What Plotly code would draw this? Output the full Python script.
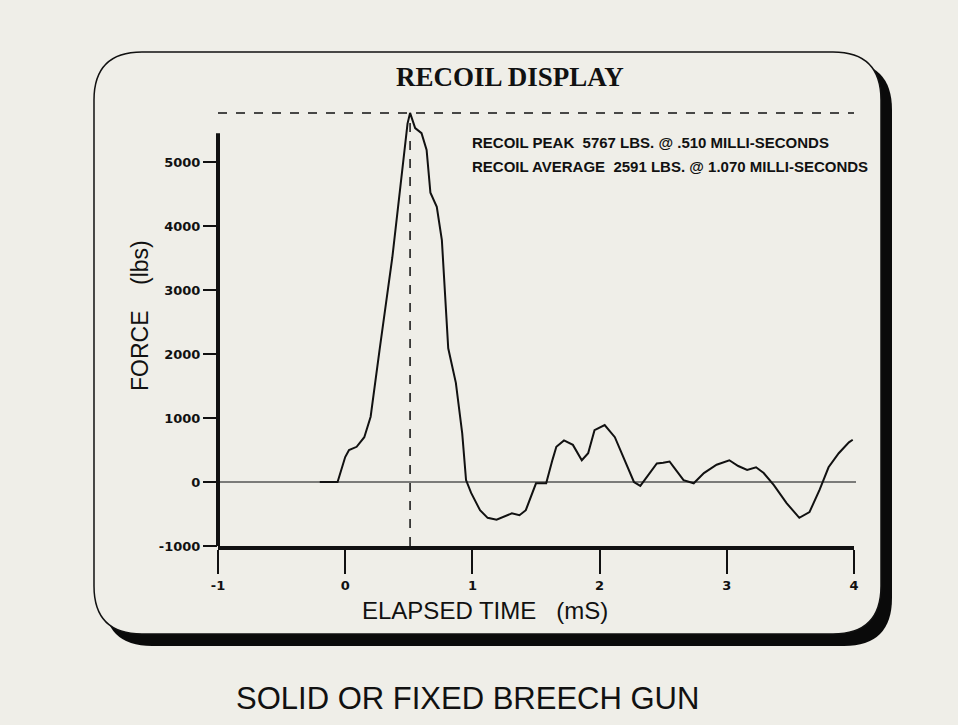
import plotly.graph_objects as go

# ---------------- data ----------------
time_ms = [-0.20, -0.06, 0.00, 0.03, 0.09, 0.15, 0.20, 0.24, 0.27, 0.37, 0.44, 0.49, 0.51,
           0.55, 0.60, 0.64, 0.67, 0.72, 0.76, 0.79, 0.81, 0.87, 0.92, 0.95, 0.99, 1.06,
           1.12, 1.19, 1.25, 1.31, 1.37, 1.42, 1.50, 1.58, 1.63, 1.66, 1.72, 1.79, 1.86,
           1.91, 1.96, 2.04, 2.12, 2.20, 2.27, 2.32, 2.38, 2.45, 2.50, 2.55, 2.58, 2.66,
           2.74, 2.82, 2.92, 3.02, 3.09, 3.16, 3.23, 3.29, 3.37, 3.47, 3.57, 3.65, 3.73,
           3.80, 3.88, 3.96, 3.99]
force_lbs = [0, 0, 390, 500, 550, 700, 1020, 1640, 2060, 3500, 4670, 5600, 5767,
             5530, 5450, 5190, 4520, 4300, 3780, 2840, 2090, 1550, 760, 30, -170, -440,
             -560, -590, -540, -490, -520, -440, -20, -20, 350, 550, 650, 580, 340,
             450, 810, 890, 700, 340, 0, -60, 110, 290, 300, 320, 240, 30,
             -20, 140, 270, 340, 250, 190, 230, 140, -50, -330, -560, -470, -120,
             230, 450, 620, 660]

peak_time = 0.510
peak_force = 5767
x_ticks = [-1, 0, 1, 2, 3, 4]
y_ticks = [-1000, 0, 1000, 2000, 3000, 4000, 5000]
title_text = "RECOIL DISPLAY"
info_lines = ["RECOIL PEAK  5767 LBS. @ .510 MILLI-SECONDS",
              "RECOIL AVERAGE  2591 LBS. @ 1.070 MILLI-SECONDS"]
x_title = "ELAPSED TIME&nbsp;&nbsp;&nbsp;(mS)"
y_title = "FORCE&nbsp;&nbsp;&nbsp;&nbsp;(lbs)"
caption = "SOLID OR FIXED BREECH GUN"

# ---------------- layout geometry ----------------
W, H = 958, 725
L, R, T, B = 218, 104, 98, 179
PW, PH = W - L - R, H - T - B
BG = "#efeee8"
INK = "#111111"


def px(x):
    return (x - L) / PW


def py(y):
    return (H - B - y) / PH


def rrect(x0, y0, x1, y1, r):
    pts = [
        ("M", [(x0 + r, y0)]),
        ("L", [(x1 - r, y0)]),
        ("Q", [(x1, y0), (x1, y0 + r)]),
        ("L", [(x1, y1 - r)]),
        ("Q", [(x1, y1), (x1 - r, y1)]),
        ("L", [(x0 + r, y1)]),
        ("Q", [(x0, y1), (x0, y1 - r)]),
        ("L", [(x0, y0 + r)]),
        ("Q", [(x0, y0), (x0 + r, y0)]),
    ]
    s = ""
    for cmd, ps in pts:
        s += cmd + " " + " ".join(f"{px(a):.5f},{py(b):.5f}" for a, b in ps) + " "
    return s + "Z"


fig = go.Figure()
fig.add_trace(go.Scatter(x=time_ms, y=force_lbs, mode="lines",
                         line=dict(color=INK, width=2), hoverinfo="skip",
                         showlegend=False))

shapes = [
    # frame shadow + frame
    dict(type="path", xref="paper", yref="paper", path=rrect(104, 62, 892, 646, 48),
         fillcolor="#0a0a0a", line=dict(width=0), layer="below"),
    dict(type="path", xref="paper", yref="paper", path=rrect(94, 52, 881, 634, 48),
         fillcolor=BG, line=dict(color=INK, width=1.5), layer="below"),
    # zero line
    dict(type="line", xref="paper", yref="y", x0=px(203), x1=px(856), y0=0, y1=0,
         line=dict(color="#555555", width=1.5), layer="below"),
    # y axis line
    dict(type="line", xref="paper", yref="y", x0=0, x1=0, y0=-1000, y1=5450,
         line=dict(color=INK, width=4)),
    # peak dashed lines
    dict(type="line", xref="x", yref="y", x0=-1, x1=4, y0=peak_force, y1=peak_force,
         line=dict(color=INK, width=1.5, dash="dash")),
    dict(type="line", xref="x", yref="y", x0=peak_time, x1=peak_time, y0=-1000, y1=peak_force,
         line=dict(color=INK, width=1.5, dash="dash")),
]

info_font = dict(family="Liberation Sans Narrow, Liberation Sans, sans-serif", size=15,
                 color=INK, weight="bold")
annotations = [
    dict(text=title_text, xref="paper", yref="paper", x=px(510), y=py(77),
         showarrow=False, xanchor="center", yanchor="middle",
         font=dict(family="Liberation Serif, DejaVu Serif, serif", size=27, color=INK,
                   weight="bold")),
    dict(text=info_lines[0], xref="paper", yref="paper", x=px(470), y=py(142),
         showarrow=False, xanchor="left", yanchor="middle", font=info_font),
    dict(text=info_lines[1], xref="paper", yref="paper", x=px(470), y=py(166),
         showarrow=False, xanchor="left", yanchor="middle", font=info_font),
    dict(text=x_title, xref="paper", yref="paper", x=px(485), y=py(610),
         showarrow=False, xanchor="center", yanchor="middle",
         font=dict(family="Liberation Sans, Arial, sans-serif", size=24, color=INK)),
    dict(text=y_title, xref="paper", yref="paper", x=px(140), y=py(316),
         showarrow=False, xanchor="center", yanchor="middle", textangle=-90,
         font=dict(family="Liberation Sans, Arial, sans-serif", size=23, color=INK)),
    dict(text=caption, xref="paper", yref="paper", x=px(467), y=py(698),
         showarrow=False, xanchor="center", yanchor="middle",
         font=dict(family="Liberation Sans, Arial, sans-serif", size=31, color=INK)),
]

tick_font = dict(family="DejaVu Sans, sans-serif", size=13, color=INK, weight="bold")
fig.update_layout(
    width=W, height=H,
    margin=dict(l=L, r=R, t=T, b=B, pad=0),
    paper_bgcolor=BG, plot_bgcolor="rgba(0,0,0,0)",
    showlegend=False,
    shapes=shapes, annotations=annotations,
    xaxis=dict(range=[-1, 4], tickvals=x_ticks, ticktext=[str(v) for v in x_ticks],
               showgrid=False, zeroline=False, showline=True, linecolor=INK,
               linewidth=4, ticks="outside", ticklen=24, tickwidth=1.5,
               tickcolor=INK, tickfont=tick_font),
    yaxis=dict(range=[-1000, 6000], tickvals=y_ticks, ticktext=[str(v) for v in y_ticks],
               showgrid=False, zeroline=False, showline=False,
               ticks="outside", ticklen=14, tickwidth=1.5, tickcolor=INK,
               tickfont=tick_font),
)

fig.write_html(
    "out.html",
    config={"displayModeBar": False},
    post_script="document.body.style.margin='0';document.body.style.overflow='hidden';"
                "document.body.style.background='" + BG + "';",
)
